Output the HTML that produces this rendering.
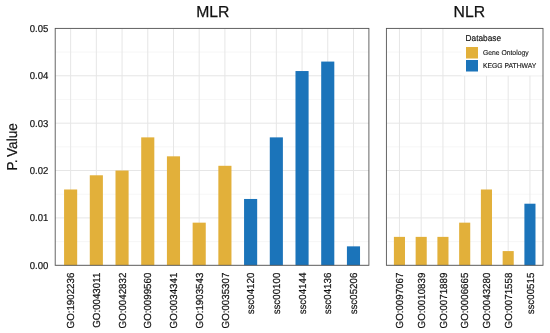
<!DOCTYPE html>
<html><head><meta charset="utf-8"><title>chart</title><style>html,body{margin:0;padding:0;background:#fff}svg{display:block}</style></head><body>
<svg width="550" height="333" viewBox="0 0 550 333" font-family="Liberation Sans, Arial, sans-serif" text-rendering="geometricPrecision">
<rect width="550" height="333" fill="#fff"/>
<line x1="55.2" x2="368.9" y1="241.61" y2="241.61" stroke="#f0f0f0" stroke-width="0.6"/>
<line x1="55.2" x2="368.9" y1="194.23" y2="194.23" stroke="#f0f0f0" stroke-width="0.6"/>
<line x1="55.2" x2="368.9" y1="146.85" y2="146.85" stroke="#f0f0f0" stroke-width="0.6"/>
<line x1="55.2" x2="368.9" y1="99.47" y2="99.47" stroke="#f0f0f0" stroke-width="0.6"/>
<line x1="55.2" x2="368.9" y1="52.09" y2="52.09" stroke="#f0f0f0" stroke-width="0.6"/>
<line x1="55.2" x2="368.9" y1="265.30" y2="265.30" stroke="#e6e6e6" stroke-width="1"/>
<line x1="55.2" x2="368.9" y1="217.92" y2="217.92" stroke="#e6e6e6" stroke-width="1"/>
<line x1="55.2" x2="368.9" y1="170.54" y2="170.54" stroke="#e6e6e6" stroke-width="1"/>
<line x1="55.2" x2="368.9" y1="123.16" y2="123.16" stroke="#e6e6e6" stroke-width="1"/>
<line x1="55.2" x2="368.9" y1="75.78" y2="75.78" stroke="#e6e6e6" stroke-width="1"/>
<line x1="55.2" x2="368.9" y1="28.40" y2="28.40" stroke="#e6e6e6" stroke-width="1"/>
<line y1="28.4" y2="265.3" x1="70.63" x2="70.63" stroke="#e6e6e6" stroke-width="1"/>
<line y1="28.4" y2="265.3" x1="96.34" x2="96.34" stroke="#e6e6e6" stroke-width="1"/>
<line y1="28.4" y2="265.3" x1="122.05" x2="122.05" stroke="#e6e6e6" stroke-width="1"/>
<line y1="28.4" y2="265.3" x1="147.77" x2="147.77" stroke="#e6e6e6" stroke-width="1"/>
<line y1="28.4" y2="265.3" x1="173.48" x2="173.48" stroke="#e6e6e6" stroke-width="1"/>
<line y1="28.4" y2="265.3" x1="199.19" x2="199.19" stroke="#e6e6e6" stroke-width="1"/>
<line y1="28.4" y2="265.3" x1="224.91" x2="224.91" stroke="#e6e6e6" stroke-width="1"/>
<line y1="28.4" y2="265.3" x1="250.62" x2="250.62" stroke="#e6e6e6" stroke-width="1"/>
<line y1="28.4" y2="265.3" x1="276.33" x2="276.33" stroke="#e6e6e6" stroke-width="1"/>
<line y1="28.4" y2="265.3" x1="302.05" x2="302.05" stroke="#e6e6e6" stroke-width="1"/>
<line y1="28.4" y2="265.3" x1="327.76" x2="327.76" stroke="#e6e6e6" stroke-width="1"/>
<line y1="28.4" y2="265.3" x1="353.47" x2="353.47" stroke="#e6e6e6" stroke-width="1"/>
<rect x="64.07" y="189.49" width="13.11" height="75.81" fill="#E2B03A"/>
<rect x="89.78" y="175.28" width="13.11" height="90.02" fill="#E2B03A"/>
<rect x="115.50" y="170.54" width="13.11" height="94.76" fill="#E2B03A"/>
<rect x="141.21" y="137.37" width="13.11" height="127.93" fill="#E2B03A"/>
<rect x="166.92" y="156.33" width="13.11" height="108.97" fill="#E2B03A"/>
<rect x="192.64" y="222.66" width="13.11" height="42.64" fill="#E2B03A"/>
<rect x="218.35" y="165.80" width="13.11" height="99.50" fill="#E2B03A"/>
<rect x="244.06" y="198.97" width="13.11" height="66.33" fill="#1B74BA"/>
<rect x="269.78" y="137.37" width="13.11" height="127.93" fill="#1B74BA"/>
<rect x="295.49" y="71.04" width="13.11" height="194.26" fill="#1B74BA"/>
<rect x="321.20" y="61.57" width="13.11" height="203.73" fill="#1B74BA"/>
<rect x="346.92" y="246.35" width="13.11" height="18.95" fill="#1B74BA"/>
<rect x="55.2" y="28.4" width="313.70" height="236.90" fill="none" stroke="#555" stroke-width="0.9"/>
<text transform="translate(74.23,272.70) rotate(-90) scale(0.955,1)" text-anchor="end" font-size="10.2" fill="#111" stroke="#111" stroke-width="0.2">GO:1902236</text>
<text transform="translate(99.94,272.70) rotate(-90) scale(0.955,1)" text-anchor="end" font-size="10.2" fill="#111" stroke="#111" stroke-width="0.2">GO:0043011</text>
<text transform="translate(125.65,272.70) rotate(-90) scale(0.955,1)" text-anchor="end" font-size="10.2" fill="#111" stroke="#111" stroke-width="0.2">GO:0042832</text>
<text transform="translate(151.37,272.70) rotate(-90) scale(0.955,1)" text-anchor="end" font-size="10.2" fill="#111" stroke="#111" stroke-width="0.2">GO:0099560</text>
<text transform="translate(177.08,272.70) rotate(-90) scale(0.955,1)" text-anchor="end" font-size="10.2" fill="#111" stroke="#111" stroke-width="0.2">GO:0034341</text>
<text transform="translate(202.79,272.70) rotate(-90) scale(0.955,1)" text-anchor="end" font-size="10.2" fill="#111" stroke="#111" stroke-width="0.2">GO:1903543</text>
<text transform="translate(228.51,272.70) rotate(-90) scale(0.955,1)" text-anchor="end" font-size="10.2" fill="#111" stroke="#111" stroke-width="0.2">GO:0035307</text>
<text transform="translate(254.22,272.70) rotate(-90) scale(0.955,1)" text-anchor="end" font-size="10.2" fill="#111" stroke="#111" stroke-width="0.2">ssc04120</text>
<text transform="translate(279.93,272.70) rotate(-90) scale(0.955,1)" text-anchor="end" font-size="10.2" fill="#111" stroke="#111" stroke-width="0.2">ssc00100</text>
<text transform="translate(305.65,272.70) rotate(-90) scale(0.955,1)" text-anchor="end" font-size="10.2" fill="#111" stroke="#111" stroke-width="0.2">ssc04144</text>
<text transform="translate(331.36,272.70) rotate(-90) scale(0.955,1)" text-anchor="end" font-size="10.2" fill="#111" stroke="#111" stroke-width="0.2">ssc04136</text>
<text transform="translate(357.07,272.70) rotate(-90) scale(0.955,1)" text-anchor="end" font-size="10.2" fill="#111" stroke="#111" stroke-width="0.2">ssc05206</text>
<line x1="386.4" x2="543.0" y1="241.61" y2="241.61" stroke="#f0f0f0" stroke-width="0.6"/>
<line x1="386.4" x2="543.0" y1="194.23" y2="194.23" stroke="#f0f0f0" stroke-width="0.6"/>
<line x1="386.4" x2="543.0" y1="146.85" y2="146.85" stroke="#f0f0f0" stroke-width="0.6"/>
<line x1="386.4" x2="543.0" y1="99.47" y2="99.47" stroke="#f0f0f0" stroke-width="0.6"/>
<line x1="386.4" x2="543.0" y1="52.09" y2="52.09" stroke="#f0f0f0" stroke-width="0.6"/>
<line x1="386.4" x2="543.0" y1="265.30" y2="265.30" stroke="#e6e6e6" stroke-width="1"/>
<line x1="386.4" x2="543.0" y1="217.92" y2="217.92" stroke="#e6e6e6" stroke-width="1"/>
<line x1="386.4" x2="543.0" y1="170.54" y2="170.54" stroke="#e6e6e6" stroke-width="1"/>
<line x1="386.4" x2="543.0" y1="123.16" y2="123.16" stroke="#e6e6e6" stroke-width="1"/>
<line x1="386.4" x2="543.0" y1="75.78" y2="75.78" stroke="#e6e6e6" stroke-width="1"/>
<line x1="386.4" x2="543.0" y1="28.40" y2="28.40" stroke="#e6e6e6" stroke-width="1"/>
<line y1="28.4" y2="265.3" x1="399.45" x2="399.45" stroke="#e6e6e6" stroke-width="1"/>
<line y1="28.4" y2="265.3" x1="421.20" x2="421.20" stroke="#e6e6e6" stroke-width="1"/>
<line y1="28.4" y2="265.3" x1="442.95" x2="442.95" stroke="#e6e6e6" stroke-width="1"/>
<line y1="28.4" y2="265.3" x1="464.70" x2="464.70" stroke="#e6e6e6" stroke-width="1"/>
<line y1="28.4" y2="265.3" x1="486.45" x2="486.45" stroke="#e6e6e6" stroke-width="1"/>
<line y1="28.4" y2="265.3" x1="508.20" x2="508.20" stroke="#e6e6e6" stroke-width="1"/>
<line y1="28.4" y2="265.3" x1="529.95" x2="529.95" stroke="#e6e6e6" stroke-width="1"/>
<rect x="461.5" y="29" width="81" height="46.5" fill="#fff"/>
<rect x="393.90" y="236.87" width="11.09" height="28.43" fill="#E2B03A"/>
<rect x="415.65" y="236.87" width="11.09" height="28.43" fill="#E2B03A"/>
<rect x="437.40" y="236.87" width="11.09" height="28.43" fill="#E2B03A"/>
<rect x="459.15" y="222.66" width="11.09" height="42.64" fill="#E2B03A"/>
<rect x="480.90" y="189.49" width="11.09" height="75.81" fill="#E2B03A"/>
<rect x="502.65" y="251.09" width="11.09" height="14.21" fill="#E2B03A"/>
<rect x="524.40" y="203.71" width="11.09" height="61.59" fill="#1B74BA"/>
<rect x="386.4" y="28.4" width="156.60" height="236.90" fill="none" stroke="#555" stroke-width="0.9"/>
<text transform="translate(403.05,272.70) rotate(-90) scale(0.955,1)" text-anchor="end" font-size="10.2" fill="#111" stroke="#111" stroke-width="0.2">GO:0097067</text>
<text transform="translate(424.80,272.70) rotate(-90) scale(0.955,1)" text-anchor="end" font-size="10.2" fill="#111" stroke="#111" stroke-width="0.2">GO:0010839</text>
<text transform="translate(446.55,272.70) rotate(-90) scale(0.955,1)" text-anchor="end" font-size="10.2" fill="#111" stroke="#111" stroke-width="0.2">GO:0071889</text>
<text transform="translate(468.30,272.70) rotate(-90) scale(0.955,1)" text-anchor="end" font-size="10.2" fill="#111" stroke="#111" stroke-width="0.2">GO:0006665</text>
<text transform="translate(490.05,272.70) rotate(-90) scale(0.955,1)" text-anchor="end" font-size="10.2" fill="#111" stroke="#111" stroke-width="0.2">GO:0043280</text>
<text transform="translate(511.80,272.70) rotate(-90) scale(0.955,1)" text-anchor="end" font-size="10.2" fill="#111" stroke="#111" stroke-width="0.2">GO:0071558</text>
<text transform="translate(533.55,272.70) rotate(-90) scale(0.955,1)" text-anchor="end" font-size="10.2" fill="#111" stroke="#111" stroke-width="0.2">ssc00515</text>
<text transform="translate(48.30,268.80) scale(0.955,1)" text-anchor="end" font-size="10" fill="#111" stroke="#111" stroke-width="0.2">0.00</text>
<text transform="translate(48.30,221.42) scale(0.955,1)" text-anchor="end" font-size="10" fill="#111" stroke="#111" stroke-width="0.2">0.01</text>
<text transform="translate(48.30,174.04) scale(0.955,1)" text-anchor="end" font-size="10" fill="#111" stroke="#111" stroke-width="0.2">0.02</text>
<text transform="translate(48.30,126.66) scale(0.955,1)" text-anchor="end" font-size="10" fill="#111" stroke="#111" stroke-width="0.2">0.03</text>
<text transform="translate(48.30,79.28) scale(0.955,1)" text-anchor="end" font-size="10" fill="#111" stroke="#111" stroke-width="0.2">0.04</text>
<text transform="translate(48.30,31.90) scale(0.955,1)" text-anchor="end" font-size="10" fill="#111" stroke="#111" stroke-width="0.2">0.05</text>
<text transform="translate(16.80,170.50) rotate(-90) scale(0.945,1)" text-anchor="start" font-size="14.4" fill="#111" stroke="#111" stroke-width="0.2">P.<tspan dx="2.6">Value</tspan></text>
<text transform="translate(212.80,17.40) scale(0.99,1)" text-anchor="middle" font-size="15.9" fill="#111" stroke="#111" stroke-width="0.25">MLR</text>
<text transform="translate(469.30,17.40) scale(0.99,1)" text-anchor="middle" font-size="15.9" fill="#111" stroke="#111" stroke-width="0.25">NLR</text>
<text transform="translate(465.60,40.80) scale(0.955,1)" text-anchor="start" font-size="8.7" fill="#111" stroke="#111" stroke-width="0.15">Database</text>
<rect x="466" y="47" width="12" height="11.5" fill="#E2B03A"/>
<rect x="466" y="60" width="12" height="11.5" fill="#1B74BA"/>
<text transform="translate(483.00,55.00) scale(0.955,1)" text-anchor="start" font-size="7.1" fill="#111" stroke="#111" stroke-width="0.12">Gene Ontology</text>
<text transform="translate(483.00,68.20) scale(0.955,1)" text-anchor="start" font-size="7.1" fill="#111" stroke="#111" stroke-width="0.12">KEGG PATHWAY</text>
</svg>
</body></html>
